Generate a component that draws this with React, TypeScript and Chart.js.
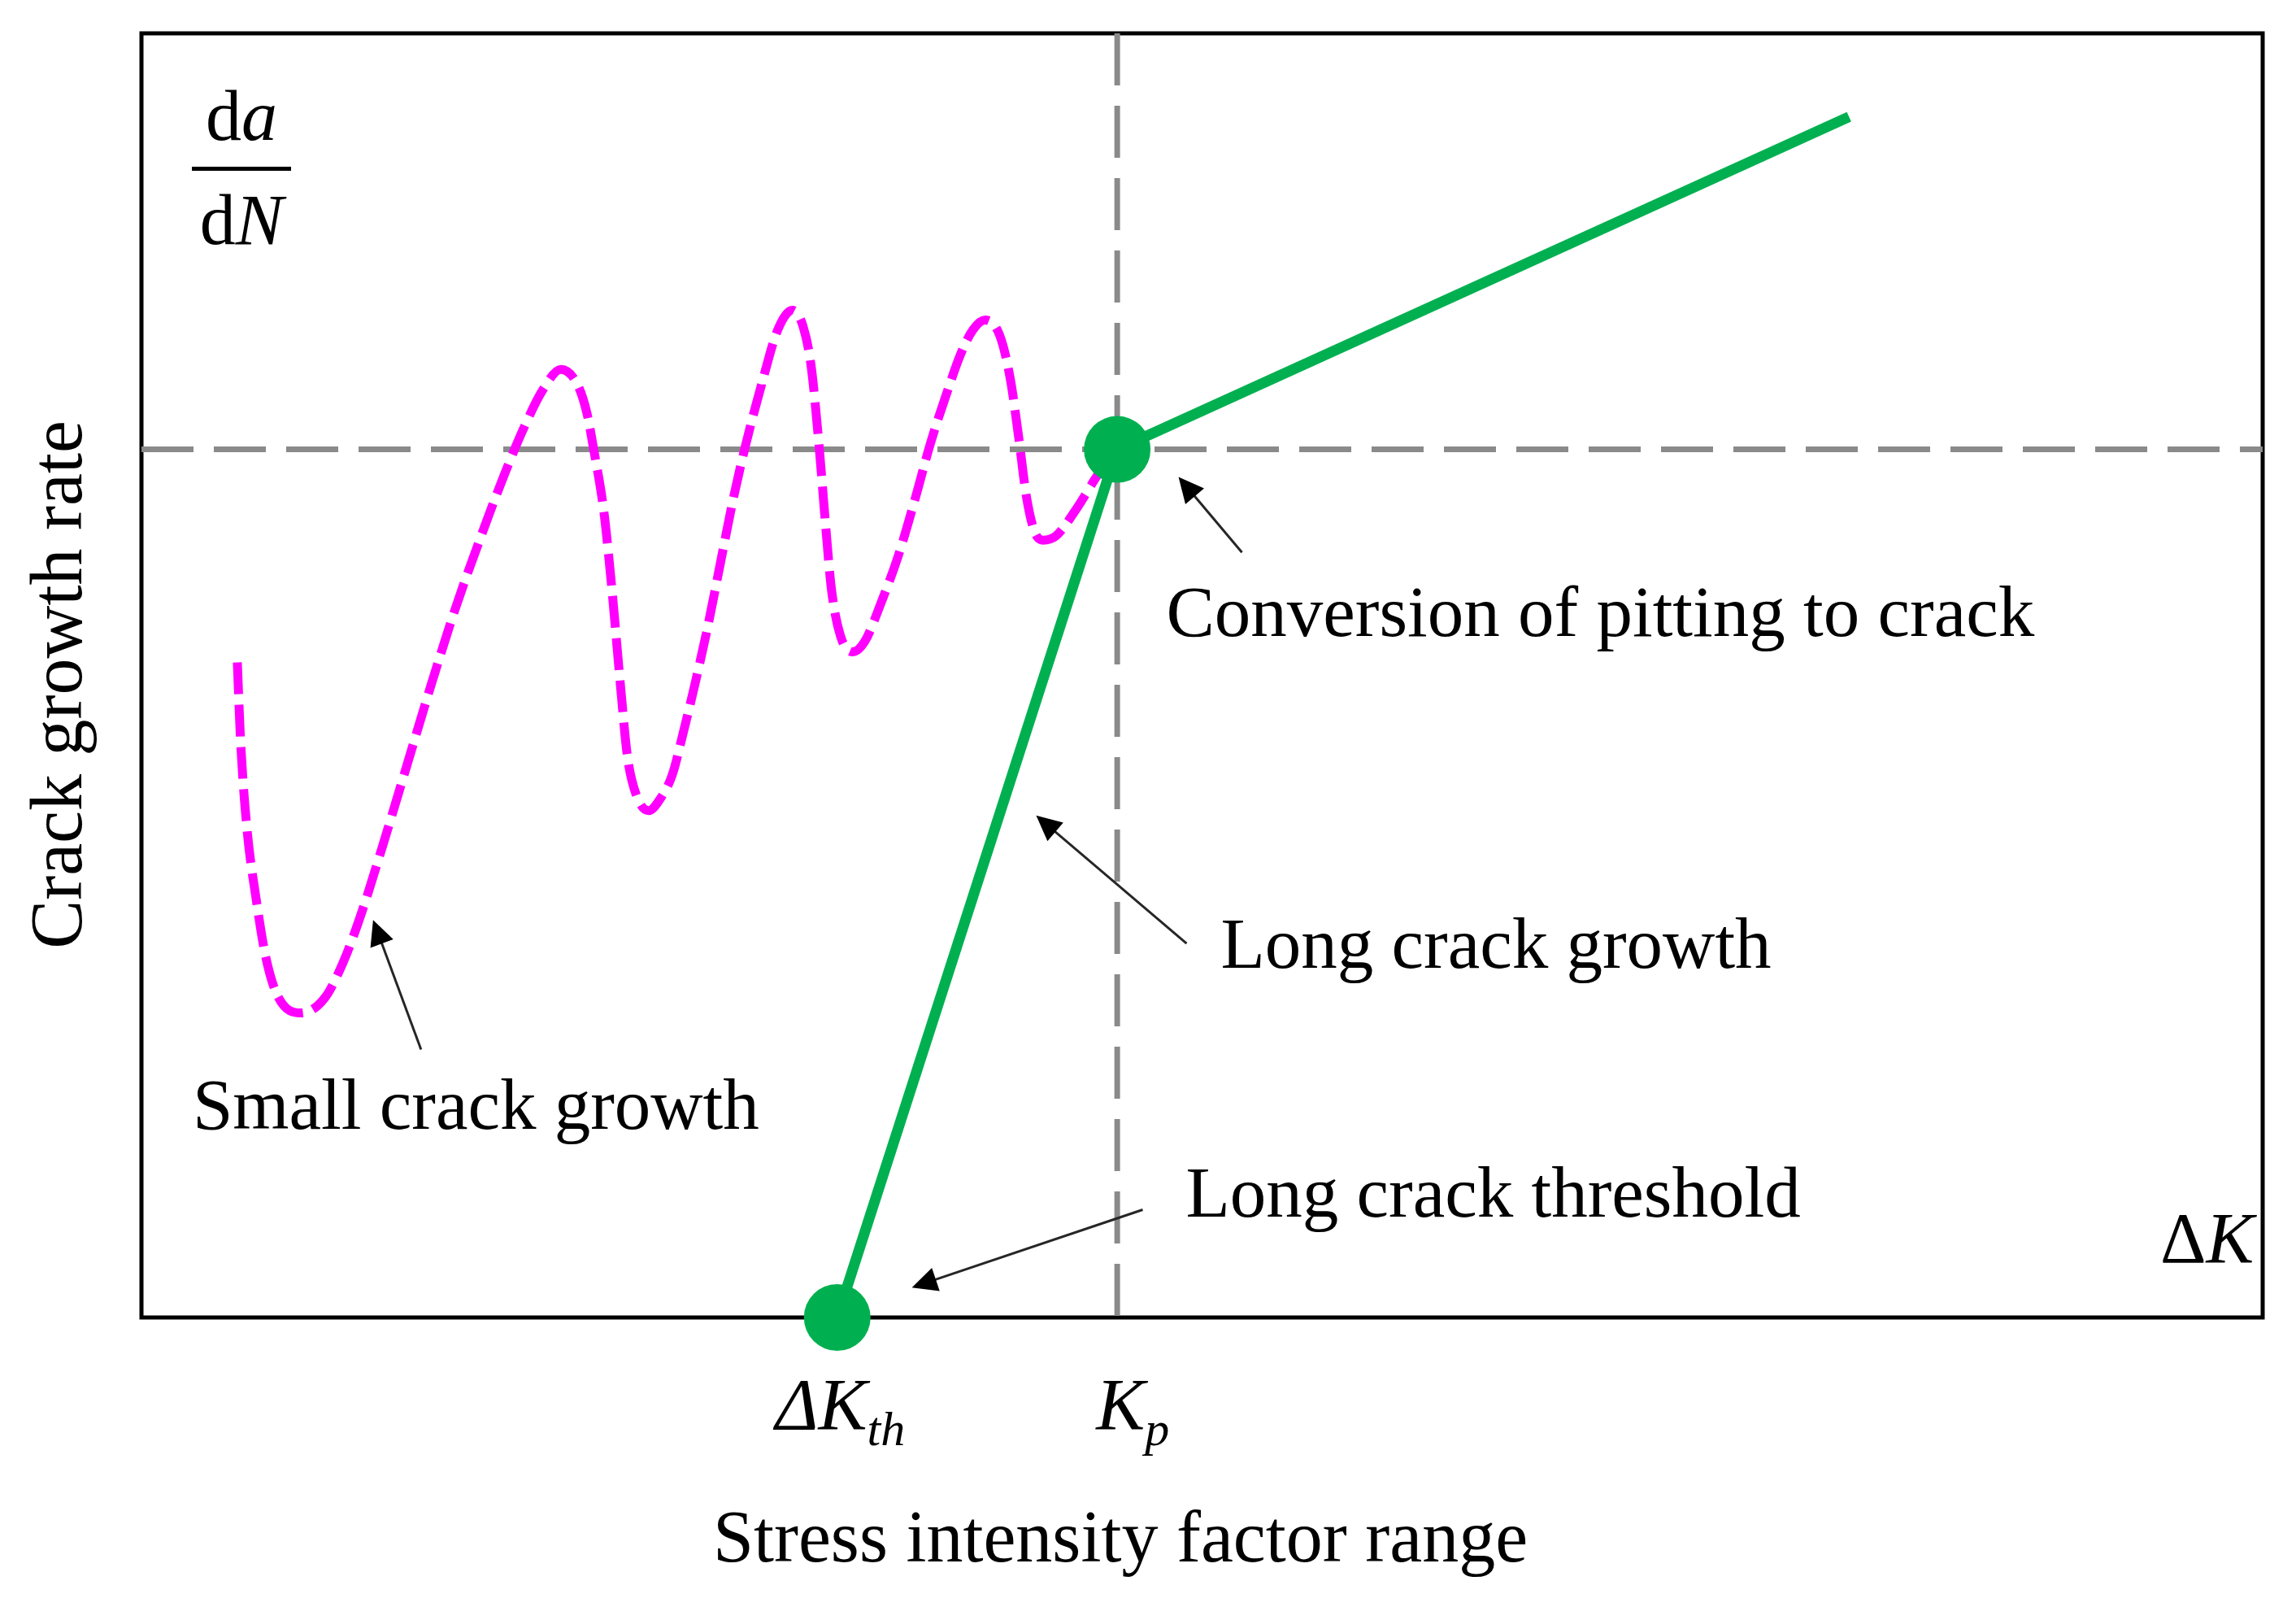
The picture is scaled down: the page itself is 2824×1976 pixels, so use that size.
import React, { useEffect, useRef } from "react";
import { Chart, registerables } from "chart.js";

Chart.register(...registerables);

// ---------- data (schematic units: ΔK 0..100, da/dN 0..100) ----------
const smallCrackX = [
  4.52, 4.67, 4.98, 5.4, 5.86, 6.44, 7.51,
  8.62, 9.5, 10.38, 11.34, 12.49, 13.64, 14.79, 15.94, 17.09, 18.05, 18.93, 19.77,
  20.54, 21.0, 21.3, 21.8, 22.18, 22.57, 22.91, 23.33, 23.91,
  24.44, 25.02, 25.52, 26.09, 26.67, 27.28, 27.85, 28.43, 29.23, 30.0, 30.69,
  31.19, 31.57, 31.95, 32.26, 32.53, 32.95, 33.52,
  34.1, 34.9, 35.67, 36.44, 37.2, 37.97, 38.62, 39.2, 39.77,
  40.46, 40.96, 41.34, 41.72, 42.11, 42.49,
  43.1, 44.06, 44.94, 45.52,
];
const smallCrackY = [
  51.01, 44.96, 37.96, 32.66, 28.06, 24.97, 23.71,
  24.84, 27.62, 31.53, 36.57, 42.87, 49.18, 55.17, 60.53, 65.57, 69.36, 72.26, 73.83,
  72.7, 70.43, 67.78, 62.74, 56.68, 49.43, 43.69, 40.67, 39.47,
  40.35, 42.24, 45.4, 49.31, 53.59, 58.64, 63.37, 67.59, 72.64, 76.92, 78.44,
  77.18, 74.09, 67.78, 61.54, 56.68, 53.09, 51.83,
  52.65, 55.8, 59.27, 63.56, 68.1, 72.01, 75.03, 76.92, 77.68,
  76.48, 73.08, 68.73, 63.93, 61.16, 60.53,
  60.84, 62.93, 65.26, 66.71,
];

const longCrackX = [32.8, 46.0, 80.5];
const longCrackY = [0, 67.6, 93.5];

const kpX = 46.0; // K_p
const pittingRateY = 67.6; // growth rate at conversion of pitting to crack
const xMin = 0, xMax = 100, yMin = 0, yMax = 100;

const xTickValues = [32.8, 46.0];
const xTickMain = ["ΔK", "K"];
const xTickSub = ["th", "p"];

const annotationTexts = [
  "Conversion of pitting to crack",
  "Long crack growth",
  "Small crack growth",
  "Long crack threshold",
];

const xAxisTitle = "Stress intensity factor range";
const yAxisTitle = "Crack growth rate";

// ---------- layout / style (kept separate from data) ----------
const W = 2824, H = 1976;
const PAD = { left: 174, right: 40, top: 34, bottom: 356 };
const GREEN = "#00B050";
const MAGENTA = "#FF00FF";
const GRAY = "#8a8a8a";
const SERIF = '"Liberation Serif", "Times New Roman", Times, serif';
const FS = 90;
const FS_ANN = 89;

// annotation anchors in data units: text left/baseline, arrow tail -> tip
const annotationLayout = [
  { tx: 48.31, ty: 53.09, ax1: 51.88, ay1: 59.58, ax2: 48.89, ay2: 65.45 },
  { tx: 50.88, ty: 27.24, ax1: 49.27, ay1: 29.13, ax2: 42.18, ay2: 39.09 },
  { tx: 2.41, ty: 14.69, ax1: 13.18, ay1: 20.87, ax2: 10.92, ay2: 30.96 },
  { tx: 49.23, ty: 7.88, ax1: 47.2, ay1: 8.39, ax2: 36.32, ay2: 2.33 },
];
const tickOffsets = [-76, -26]; // left offset of tick label from tick position (px)

type Run = { t: string; size: number; italic?: boolean; dy?: number };

function fontStr(size: number, italic?: boolean) {
  return `${italic ? "italic " : ""}${size}px ${SERIF}`;
}

function runsWidth(ctx: CanvasRenderingContext2D, runs: Run[]) {
  let w = 0;
  for (const r of runs) {
    ctx.font = fontStr(r.size, r.italic);
    w += ctx.measureText(r.t).width;
  }
  return w;
}

function drawRuns(ctx: CanvasRenderingContext2D, runs: Run[], x: number, y: number, align: "left" | "center" = "left") {
  let cx = x;
  if (align === "center") cx = x - runsWidth(ctx, runs) / 2;
  ctx.textAlign = "left";
  ctx.textBaseline = "alphabetic";
  for (const r of runs) {
    ctx.font = fontStr(r.size, r.italic);
    ctx.fillText(r.t, cx, y + (r.dy || 0));
    cx += ctx.measureText(r.t).width;
  }
}

function drawArrow(ctx: CanvasRenderingContext2D, x1: number, y1: number, x2: number, y2: number) {
  const ang = Math.atan2(y2 - y1, x2 - x1);
  const hl = 31, hw = 15;
  const bx = x2 - hl * Math.cos(ang);
  const by = y2 - hl * Math.sin(ang);
  ctx.save();
  ctx.strokeStyle = "#262626";
  ctx.lineWidth = 3;
  ctx.beginPath();
  ctx.moveTo(x1, y1);
  ctx.lineTo(bx + 2 * Math.cos(ang), by + 2 * Math.sin(ang));
  ctx.stroke();
  ctx.fillStyle = "#000";
  ctx.beginPath();
  ctx.moveTo(x2, y2);
  ctx.lineTo(bx + hw * Math.sin(ang), by - hw * Math.cos(ang));
  ctx.lineTo(bx - hw * Math.sin(ang), by + hw * Math.cos(ang));
  ctx.closePath();
  ctx.fill();
  ctx.restore();
}

const framePlugin = {
  id: "frame",
  beforeDatasetsDraw(chart: any) {
    const { ctx, chartArea: a } = chart;
    ctx.save();
    ctx.strokeStyle = "#000";
    ctx.lineWidth = 5;
    ctx.strokeRect(a.left, a.top, a.right - a.left, a.bottom - a.top);
    ctx.restore();
  },
};

const textPlugin = {
  id: "texts",
  afterDraw(chart: any) {
    const { ctx, chartArea: a } = chart;
    const xs = chart.scales.x;
    const ys = chart.scales.y;
    ctx.save();
    ctx.fillStyle = "#000";

    // annotations with arrows
    annotationTexts.forEach((t, i) => {
      const L = annotationLayout[i];
      drawArrow(ctx, xs.getPixelForValue(L.ax1), ys.getPixelForValue(L.ay1), xs.getPixelForValue(L.ax2), ys.getPixelForValue(L.ay2));
      drawRuns(ctx, [{ t, size: FS_ANN }], xs.getPixelForValue(L.tx), ys.getPixelForValue(L.ty));
    });

    // ΔK at bottom right inside frame
    drawRuns(ctx, [{ t: "Δ", size: 88 }, { t: "K", size: 88, italic: true }], a.right - 126, a.bottom - 68);

    // da/dN fraction
    const fx = a.left + 123;
    drawRuns(ctx, [{ t: "d", size: 88 }, { t: "a", size: 88, italic: true }], fx, a.top + 131, "center");
    ctx.fillRect(a.left + 62, a.top + 164, 122, 5);
    drawRuns(ctx, [{ t: "d", size: 88 }, { t: "N", size: 88, italic: true }], fx, a.top + 259, "center");

    // x tick labels
    xTickValues.forEach((v, i) => {
      const px = xs.getPixelForValue(v) + tickOffsets[i];
      drawRuns(ctx, [
        { t: xTickMain[i], size: FS, italic: true },
        { t: xTickSub[i], size: 60, italic: true, dy: 19 },
      ], px, a.bottom + 138);
    });

    // x axis title
    drawRuns(ctx, [{ t: xAxisTitle, size: FS }], 1378, a.bottom + 300, "center");

    // y axis title
    ctx.translate(100, 842);
    ctx.rotate(-Math.PI / 2);
    drawRuns(ctx, [{ t: yAxisTitle, size: FS }], 0, 0, "center");
    ctx.restore();
  },
};

export default function App() {
  const ref = useRef<HTMLCanvasElement | null>(null);
  useEffect(() => {
    if (!ref.current) return;
    const smallPts = smallCrackX.map((x, i) => ({ x, y: smallCrackY[i] }));
    const longPts = longCrackX.map((x, i) => ({ x, y: longCrackY[i] }));
    const chart = new Chart(ref.current, {
      type: "line",
      data: {
        datasets: [
          {
            label: "Long crack growth",
            data: longPts,
            borderColor: GREEN,
            backgroundColor: GREEN,
            borderWidth: 13,
            tension: 0,
            pointRadius: [41, 41, 0],
            pointHoverRadius: [41, 41, 0],
            pointBackgroundColor: GREEN,
            pointBorderWidth: 0,
            clip: false,
          } as any,
          {
            label: "Small crack growth",
            data: smallPts,
            borderColor: MAGENTA,
            borderWidth: 11,
            borderDash: [39, 13],
            borderCapStyle: "butt",
            cubicInterpolationMode: "monotone",
            pointRadius: 0,
            clip: false,
          } as any,
          {
            label: "Conversion rate",
            data: [{ x: xMin, y: pittingRateY }, { x: xMax, y: pittingRateY }],
            borderColor: GRAY,
            borderWidth: 7,
            borderDash: [64, 25],
            pointRadius: 0,
          } as any,
          {
            label: "Kp",
            data: [{ x: kpX, y: yMax }, { x: kpX, y: yMin }],
            borderColor: GRAY,
            borderWidth: 7,
            borderDash: [64, 25],
            pointRadius: 0,
          } as any,
        ],
      },
      options: {
        animation: false,
        responsive: false,
        devicePixelRatio: 1,
        events: [],
        layout: { padding: PAD },
        scales: {
          x: { type: "linear", min: xMin, max: xMax, display: false },
          y: { type: "linear", min: yMin, max: yMax, display: false },
        },
        plugins: { legend: { display: false }, tooltip: { enabled: false } },
      } as any,
      plugins: [framePlugin, textPlugin],
    });
    return () => chart.destroy();
  }, []);
  return (
    <div style={{ position: "absolute", left: 0, top: 0, width: W, height: H, background: "#fff" }}>
      <canvas ref={ref} width={W} height={H} style={{ display: "block", width: W, height: H }} />
    </div>
  );
}
